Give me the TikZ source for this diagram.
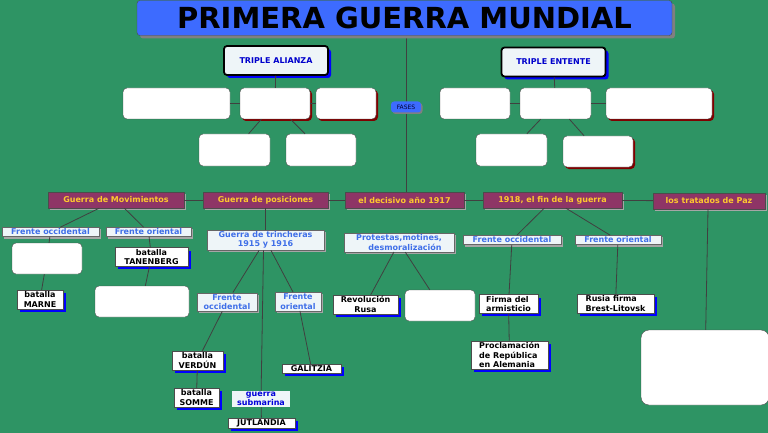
\documentclass[tikz,border=0pt]{standalone}
\usepackage{fontspec}
\setmainfont{DejaVu Sans}
\usetikzlibrary{shadows}
\definecolor{bg}{HTML}{2E9464}
\definecolor{ph}{HTML}{8E3566}
\definecolor{phtext}{HTML}{FFC82E}
\definecolor{subfill}{HTML}{EEF5F8}
\definecolor{subtext}{HTML}{3F6FE8}
\definecolor{ttl}{HTML}{3D6BFF}
\tikzset{
 every node/.style={font=\bfseries\fontsize{8}{9.5}\selectfont, align=center, inner sep=1.5pt},
 phase/.style={fill=ph, draw=black!70, text=phtext, minimum height=16pt, general shadow={fill=gray!70, shadow xshift=2pt, shadow yshift=-2pt}},
 sub/.style={fill=subfill, draw=black!60, text=subtext, general shadow={fill=gray!70, shadow xshift=2pt, shadow yshift=-2pt}},
 leaf/.style={fill=white, draw=black!70, text=black, general shadow={fill=blue, shadow xshift=3pt, shadow yshift=-3pt}},
 blank/.style={fill=white, draw=black!70, rounded corners=4pt},
 blankr/.style={blank, general shadow={fill=red!50!black, shadow xshift=2pt, shadow yshift=-2pt}},
 ally/.style={fill=subfill, draw=black, line width=1.8pt, rounded corners=3pt, text=blue!80!black, minimum width=104pt, minimum height=29pt, general shadow={fill=blue, shadow xshift=3pt, shadow yshift=-3pt}},
 ln/.style={draw=black!75, line width=0.8pt}
}
\begin{document}
\begin{tikzpicture}[x=1pt,y=-1pt]
\fill[bg] (0,0) rectangle (768,433);
\useasboundingbox (0,0) rectangle (768,433);
% lines first
\coordinate (vtop) at (406,36);
\coordinate (vbot) at (406,192);
\draw[ln] (vtop) -- (vbot);
% title
\node[fill=ttl, draw=black!70, rounded corners=3pt, minimum width=535pt, minimum height=35pt, font=\bfseries\fontsize{29}{30}\selectfont, general shadow={fill=gray, shadow xshift=3pt, shadow yshift=-3pt}] (title) at (404.5,18) {PRIMERA GUERRA MUNDIAL};
% alliances
\node[ally] (ta) at (276,60.5) {TRIPLE ALIANZA};
\node[ally] (te) at (553.5,62) {TRIPLE ENTENTE};
\node[blankr, minimum width=70pt, minimum height=31pt] (a2) at (275,103.5) {};
\node[blank, minimum width=107pt, minimum height=31pt] (a1) at (176.5,103.5) {};
\node[blankr, minimum width=60pt, minimum height=31pt] (a3) at (346,103.5) {};
\node[blank, minimum width=71pt, minimum height=32pt] (a4) at (234.5,150) {};
\node[blank, minimum width=70pt, minimum height=32pt] (a5) at (321,150) {};
\draw[ln] (ta) -- (a2); \draw[ln] (a1) -- (a2); \draw[ln] (a2) -- (a3);
\draw[ln] (a2) -- (a4); \draw[ln] (a2) -- (a5);
\node[blank, minimum width=70pt, minimum height=31pt] (e1) at (475,103.5) {};
\node[blank, minimum width=71pt, minimum height=31pt] (e2) at (555.5,103.5) {};
\node[blankr, minimum width=106pt, minimum height=31pt] (e3) at (659,103.5) {};
\node[blank, minimum width=71pt, minimum height=32pt] (e4) at (511.5,150) {};
\node[blankr, minimum width=70pt, minimum height=31pt] (e5) at (598,151.5) {};
\draw[ln] (te) -- (e2); \draw[ln] (e1) -- (e2); \draw[ln] (e2) -- (e3);
\draw[ln] (e2) -- (e4); \draw[ln] (e2) -- (e5);
\node[fill=ttl, rounded corners=3pt, text=blue!20!black, font=\fontsize{6}{7}\selectfont, minimum width=30pt, minimum height=11pt, general shadow={fill=gray, shadow xshift=1.5pt, shadow yshift=-1.5pt}] (fases) at (406,107) {FASES};
% phases
\node[phase, minimum width=136pt] (p1) at (116,200) {Guerra de Movimientos};
\node[phase, minimum width=125pt] (p2) at (265.5,200) {Guerra de posiciones};
\node[phase, minimum width=119pt] (p3) at (404.5,200) {el decisivo año 1917};
\node[phase, minimum width=139pt] (p4) at (552.5,200) {1918, el fin de la guerra};
\node[phase, minimum width=112pt] (p5) at (709,201) {los tratados de Paz};
\draw[ln] (p1) -- (p2); \draw[ln] (p2) -- (p3); \draw[ln] (p3) -- (p4); \draw[ln] (p4) -- (p5);
% Movimientos
\node[sub, minimum width=97pt] (m1) at (50.5,232) {Frente occidental};
\node[sub, minimum width=85pt] (m2) at (148.5,232) {Frente oriental};
\draw[ln] (p1) -- (m1); \draw[ln] (p1) -- (m2);
\node[blank, minimum width=70pt, minimum height=31pt] (m1b) at (47,258.5) {};
\node[leaf, minimum width=46pt] (marne) at (40,299.5) {batalla\\MARNE};
\draw[ln] (m1) -- (m1b); \draw[ln] (m1b) -- (marne);
\node[leaf, minimum width=73pt] (tan) at (151.5,257) {batalla\\TANENBERG};
\node[blank, minimum width=94pt, minimum height=31pt] (m2b) at (142,301.5) {};
\draw[ln] (m2) -- (tan); \draw[ln] (tan) -- (m2b);
% posiciones
\node[sub, minimum width=117pt] (tr) at (265.5,240) {Guerra de trincheras\\1915 y 1916};
\draw[ln] (p2) -- (tr);
\node[sub, minimum width=60pt] (po1) at (227,302) {Frente\\occidental};
\node[sub, minimum width=46pt] (po2) at (298,301.5) {Frente\\oriental};
\node[fill=subfill, text=blue!85!black, inner sep=1pt, minimum width=58pt] (sm) at (261,399) {guerra\\submarina};
\node[leaf, minimum width=67pt] (jut) at (261.5,423) {JUTLANDIA};
\draw[ln] (tr) -- (po1); \draw[ln] (tr) -- (po2); \draw[ln] (tr.south) ++(-2,0) -- (sm); \draw[ln] (sm) -- (jut);
\node[leaf, minimum width=51pt] (ver) at (197.5,360.5) {batalla\\VERDÚN};
\node[leaf, minimum width=45pt] (som) at (196.5,397.5) {batalla\\SOMME};
\draw[ln] (po1) -- (ver); \draw[ln] (ver) -- (som);
\node[leaf, minimum width=59pt] (gal) at (311.5,368.5) {GALITZIA};
\draw[ln] (po2) -- (gal);
% 1917
\node[sub, minimum width=110pt] (pr) at (399,242.5) {Protestas,motines,\\\hspace*{1.5em}desmoralización};
\node[leaf, minimum width=65pt] (rr) at (365.5,304.5) {Revolución\\Rusa};
\node[blank, minimum width=70pt, minimum height=31pt] (pb) at (440,305.5) {};
\draw[ln] (pr) -- (rr); \draw[ln] (pr) -- (pb);
% 1918
\node[sub, minimum width=98pt] (f1) at (512,240) {Frente occidental};
\node[sub, minimum width=86pt] (f2) at (618,240) {Frente oriental};
\draw[ln] (p4) -- (f1); \draw[ln] (p4) -- (f2);
\node[leaf, minimum width=59pt, align=left] (arm) at (508.5,304) {Firma del\\armisticio};
\node[leaf, minimum width=77pt, align=left] (proc) at (509.5,355) {Proclamación\\de República\\en Alemania};
\draw[ln] (f1) -- (arm); \draw[ln] (arm) -- (proc);
\node[leaf, minimum width=77pt, align=left] (bl) at (615.5,303.5) {Rusia firma\\Brest-Litovsk};
\draw[ln] (f2) -- (bl);
% paz
\node[blank, rounded corners=8pt, minimum width=128pt, minimum height=75pt] (pz) at (705,367.5) {};
\draw[ln] (p5.south) ++(-1,0) -- (pz);
\end{tikzpicture}
\end{document}
